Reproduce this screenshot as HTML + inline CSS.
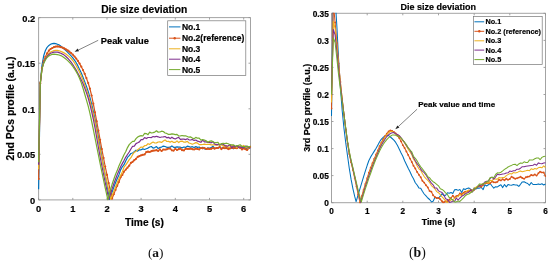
<!DOCTYPE html>
<html lang="en"><head><meta charset="utf-8"><title>Die size deviation</title>
<style>html,body{margin:0;padding:0;background:#fff}body{width:550px;height:263px;overflow:hidden}</style>
</head><body>
<svg width="550" height="263" viewBox="0 0 550 263" style="display:block;font-family:'Liberation Sans',sans-serif;font-weight:bold">
<style>text{stroke:#000;stroke-width:0.18px}</style>
<rect width="550" height="263" fill="#fff"/>
<clipPath id="ca"><rect x="38.0" y="17.0" width="213.1" height="183.5"/></clipPath>
<path d="M38.6 17.6H250.5V199.9H38.6ZM38.6 199.9v-2.0M38.6 17.6v2.0M72.8 199.9v-2.0M72.8 17.6v2.0M107.0 199.9v-2.0M107.0 17.6v2.0M141.1 199.9v-2.0M141.1 17.6v2.0M175.3 199.9v-2.0M175.3 17.6v2.0M209.5 199.9v-2.0M209.5 17.6v2.0M243.7 199.9v-2.0M243.7 17.6v2.0M38.6 199.9h2.0M250.5 199.9h-2.0M38.6 154.3h2.0M250.5 154.3h-2.0M38.6 108.8h2.0M250.5 108.8h-2.0M38.6 63.2h2.0M250.5 63.2h-2.0M38.6 17.6h2.0M250.5 17.6h-2.0" fill="none" stroke="#929292" stroke-width="0.85"/>
<g clip-path="url(#ca)">
<polyline points="38.6,189.2 40.3,83.2 42.0,65.0 43.7,55.8 45.4,50.5 47.1,47.3 48.9,45.4 50.6,44.3 52.3,43.6 54.0,43.3 55.7,43.6 57.4,44.2 59.1,44.9 60.8,46.1 62.5,47.5 64.2,49.0 65.9,50.6 67.7,52.3 69.4,54.1 71.1,55.9 72.8,57.8 74.5,60.1 76.2,62.8 77.9,65.9 79.6,69.4 81.3,73.1 83.0,77.2 84.7,81.6 86.4,86.3 88.2,91.5 89.9,97.3 91.6,103.9 93.3,111.2 95.0,119.1 96.7,127.9 98.4,137.4 100.1,147.2 101.8,156.7 103.5,166.0 105.2,175.4 107.0,184.7 108.7,194.2 109.6,199.4 110.4,197.2 112.1,192.1 113.8,187.4 115.5,182.8 117.2,178.7 118.9,174.9 120.6,169.9 122.3,166.8 124.0,164.7 125.8,160.7 127.5,157.4 129.2,155.6 130.9,153.5 132.6,153.0 134.3,151.6 136.0,150.2 137.7,151.1 139.4,149.8 141.1,149.8 142.8,148.9 144.6,149.5 146.3,148.7 148.0,148.1 149.7,147.0 151.4,146.5 153.1,148.1 154.8,147.6 156.5,146.6 158.2,148.5 159.9,147.4 161.6,147.1 163.3,146.1 165.1,146.5 166.8,147.3 168.5,147.3 170.2,147.2 171.9,145.9 173.6,147.3 175.3,147.3 177.0,146.8 178.7,147.1 180.4,147.2 182.1,147.9 183.9,147.0 185.6,147.4 187.3,146.2 189.0,146.6 190.7,147.2 192.4,146.7 194.1,147.5 195.8,146.6 197.5,147.4 199.2,147.0 200.9,148.5 202.7,147.3 204.4,148.9 206.1,149.2 207.8,147.9 209.5,148.4 211.2,147.6 212.9,146.1 214.6,148.4 216.3,148.3 218.0,147.7 219.7,147.5 221.4,148.0 223.2,148.1 224.9,147.4 226.6,147.6 228.3,148.7 230.0,148.0 231.7,147.9 233.4,148.7 235.1,147.7 236.8,148.5 238.5,147.1 240.2,147.6 242.0,147.7 243.7,148.1 245.4,147.7 247.1,149.1 248.8,148.4 250.5,147.2" fill="none" stroke="#0072BD" stroke-width="1.2" stroke-linejoin="round"/>
<polyline points="38.6,178.9 40.3,83.2 42.0,68.2 43.7,61.2 45.4,56.8 47.1,53.4 48.9,50.7 50.6,49.0 52.3,48.0 54.0,47.1 55.7,46.6 57.4,46.4 59.1,46.6 60.8,47.1 62.5,47.7 64.2,48.4 65.9,49.3 67.7,50.4 69.4,51.7 71.1,53.1 72.8,54.7 74.5,56.5 76.2,58.6 77.9,60.9 79.6,63.6 81.3,66.7 83.0,70.1 84.7,73.8 86.4,78.1 88.2,83.0 89.9,88.7 91.6,95.5 93.3,103.7 95.0,112.4 96.7,121.3 98.4,130.5 100.1,139.8 101.8,149.1 103.5,157.9 105.2,166.5 107.0,174.9 108.7,183.1 110.4,191.2 112.0,198.7 112.1,198.5 113.8,194.2 115.5,189.9 117.2,185.8 118.9,182.0 120.6,177.3 122.3,174.9 124.0,171.7 125.8,169.6 127.5,167.7 129.2,165.7 130.9,162.9 132.6,161.8 134.3,160.2 136.0,158.8 137.7,156.9 139.4,156.1 141.1,155.3 142.8,154.8 144.6,154.4 146.3,152.1 148.0,151.6 149.7,152.0 151.4,151.2 153.1,150.7 154.8,150.5 156.5,150.2 158.2,150.9 159.9,149.4 161.6,151.0 163.3,149.5 165.1,149.6 166.8,149.3 168.5,148.5 170.2,148.6 171.9,150.3 173.6,150.6 175.3,148.8 177.0,150.0 178.7,149.2 180.4,148.6 182.1,150.2 183.9,150.4 185.6,148.8 187.3,148.8 189.0,148.9 190.7,148.6 192.4,149.2 194.1,149.5 195.8,148.6 197.5,149.0 199.2,149.4 200.9,148.0 202.7,148.3 204.4,148.0 206.1,148.9 207.8,148.7 209.5,148.9 211.2,148.8 212.9,148.1 214.6,148.7 216.3,148.0 218.0,148.0 219.7,146.8 221.4,149.1 223.2,147.6 224.9,148.2 226.6,148.1 228.3,149.1 230.0,148.4 231.7,147.6 233.4,148.1 235.1,148.0 236.8,148.2 238.5,147.2 240.2,148.0 242.0,149.4 243.7,148.3 245.4,149.2 247.1,150.0 248.8,148.1 250.5,146.9" fill="none" stroke="#D95319" stroke-width="1.2" stroke-linejoin="round"/>
<path d="M38.6 178.9h0M40.3 83.2h0M42.0 68.2h0M43.7 61.2h0M45.4 56.8h0M47.1 53.4h0M48.9 50.7h0M50.6 49.0h0M52.3 48.0h0M54.0 47.1h0M55.7 46.6h0M57.4 46.4h0M59.1 46.6h0M60.8 47.1h0M62.5 47.7h0M64.2 48.4h0M65.9 49.3h0M67.7 50.4h0M69.4 51.7h0M71.1 53.1h0M72.8 54.7h0M74.5 56.5h0M76.2 58.6h0M77.9 60.9h0M79.6 63.6h0M81.3 66.7h0M83.0 70.1h0M84.7 73.8h0M86.4 78.1h0M88.2 83.0h0M89.9 88.7h0M91.6 95.5h0M93.3 103.7h0M95.0 112.4h0M96.7 121.3h0M98.4 130.5h0M100.1 139.8h0M101.8 149.1h0M103.5 157.9h0M105.2 166.5h0M107.0 174.9h0M108.7 183.1h0M110.4 191.2h0M112.0 198.7h0M112.1 198.5h0M113.8 194.2h0M115.5 189.9h0M117.2 185.8h0M118.9 182.0h0M120.6 177.3h0M122.3 174.9h0M124.0 171.7h0M125.8 169.6h0M127.5 167.7h0M129.2 165.7h0M130.9 162.9h0M132.6 161.8h0M134.3 160.2h0M136.0 158.8h0M137.7 156.9h0M139.4 156.1h0M141.1 155.3h0M142.8 154.8h0M144.6 154.4h0M146.3 152.1h0M148.0 151.6h0M149.7 152.0h0M151.4 151.2h0M153.1 150.7h0M154.8 150.5h0M156.5 150.2h0M158.2 150.9h0M159.9 149.4h0M161.6 151.0h0M163.3 149.5h0M165.1 149.6h0M166.8 149.3h0M168.5 148.5h0M170.2 148.6h0M171.9 150.3h0M173.6 150.6h0M175.3 148.8h0M177.0 150.0h0M178.7 149.2h0M180.4 148.6h0M182.1 150.2h0M183.9 150.4h0M185.6 148.8h0M187.3 148.8h0M189.0 148.9h0M190.7 148.6h0M192.4 149.2h0M194.1 149.5h0M195.8 148.6h0M197.5 149.0h0M199.2 149.4h0M200.9 148.0h0M202.7 148.3h0M204.4 148.0h0M206.1 148.9h0M207.8 148.7h0M209.5 148.9h0M211.2 148.8h0M212.9 148.1h0M214.6 148.7h0M216.3 148.0h0M218.0 148.0h0M219.7 146.8h0M221.4 149.1h0M223.2 147.6h0M224.9 148.2h0M226.6 148.1h0M228.3 149.1h0M230.0 148.4h0M231.7 147.6h0M233.4 148.1h0M235.1 148.0h0M236.8 148.2h0M238.5 147.2h0M240.2 148.0h0M242.0 149.4h0M243.7 148.3h0M245.4 149.2h0M247.1 150.0h0M248.8 148.1h0M250.5 146.9h0" stroke="#D95319" stroke-width="2.24" stroke-linecap="round" fill="none"/>
<polyline points="38.6,169.3 40.3,83.2 42.0,68.6 43.7,62.4 45.4,58.6 47.1,55.7 48.9,53.5 50.6,52.1 52.3,51.2 54.0,50.6 55.7,50.3 57.4,50.4 59.1,50.8 60.8,51.4 62.5,52.1 64.2,52.9 65.9,54.1 67.7,55.4 69.4,56.9 71.1,58.5 72.8,60.5 74.5,62.9 76.2,65.7 77.9,68.9 79.6,72.3 81.3,76.1 83.0,80.3 84.7,84.7 86.4,89.6 88.2,94.8 89.9,100.6 91.6,107.1 93.3,114.2 95.0,122.2 96.7,131.1 98.4,140.5 100.1,149.7 101.8,158.4 103.5,166.6 105.2,174.6 107.0,182.5 108.7,190.2 110.4,197.7 110.7,199.2 112.1,195.7 113.8,191.4 115.5,187.0 117.2,182.8 118.9,178.8 120.6,175.3 122.3,171.9 124.0,167.2 125.8,164.9 127.5,162.3 129.2,159.7 130.9,157.7 132.6,154.7 134.3,152.2 136.0,151.4 137.7,149.8 139.4,148.4 141.1,147.0 142.8,147.3 144.6,145.7 146.3,145.5 148.0,143.7 149.7,144.4 151.4,143.0 153.1,142.0 154.8,143.0 156.5,142.9 158.2,142.0 159.9,141.9 161.6,142.4 163.3,141.1 165.1,139.9 166.8,141.5 168.5,141.4 170.2,142.1 171.9,141.2 173.6,142.4 175.3,142.4 177.0,140.9 178.7,142.6 180.4,141.3 182.1,141.1 183.9,142.2 185.6,142.1 187.3,141.3 189.0,143.0 190.7,143.5 192.4,144.2 194.1,143.5 195.8,142.6 197.5,143.1 199.2,144.6 200.9,144.7 202.7,144.5 204.4,144.1 206.1,144.5 207.8,144.3 209.5,144.4 211.2,144.9 212.9,144.8 214.6,144.8 216.3,145.1 218.0,144.8 219.7,144.0 221.4,145.0 223.2,145.6 224.9,146.9 226.6,145.6 228.3,147.4 230.0,147.1 231.7,145.7 233.4,145.9 235.1,146.6 236.8,147.8 238.5,146.9 240.2,147.2 242.0,146.4 243.7,145.4 245.4,146.9 247.1,147.6 248.8,148.0 250.5,147.3" fill="none" stroke="#EDB120" stroke-width="1.2" stroke-linejoin="round"/>
<polyline points="38.6,164.7 40.3,83.2 42.0,68.6 43.7,62.7 45.4,59.1 47.1,56.5 48.9,54.5 50.6,53.3 52.3,52.7 54.0,52.2 55.7,52.0 57.4,52.1 59.1,52.6 60.8,53.3 62.5,54.1 64.2,55.1 65.9,56.5 67.7,58.2 69.4,60.1 71.1,62.1 72.8,64.5 74.5,67.2 76.2,70.1 77.9,73.2 79.6,76.4 81.3,80.0 83.0,83.8 84.7,88.0 86.4,92.6 88.2,98.0 89.9,104.3 91.6,111.3 93.3,119.0 95.0,127.9 96.7,137.6 98.4,147.4 100.1,156.7 101.8,165.4 103.5,174.0 105.2,182.4 107.0,190.6 108.7,198.6 108.8,199.4 110.4,194.3 112.1,188.9 113.8,183.8 115.5,179.2 117.2,174.7 118.9,170.7 120.6,166.8 122.3,163.6 124.0,160.6 125.8,157.1 127.5,154.5 129.2,152.0 130.9,149.0 132.6,146.3 134.3,146.1 136.0,143.6 137.7,142.8 139.4,141.9 141.1,139.7 142.8,139.7 144.6,137.6 146.3,138.6 148.0,137.5 149.7,137.5 151.4,137.6 153.1,136.5 154.8,136.9 156.5,136.3 158.2,136.8 159.9,137.5 161.6,137.0 163.3,136.9 165.1,136.5 166.8,137.8 168.5,137.3 170.2,138.6 171.9,137.2 173.6,138.4 175.3,139.0 177.0,138.0 178.7,137.4 180.4,139.3 182.1,139.2 183.9,139.2 185.6,139.6 187.3,138.8 189.0,139.8 190.7,140.0 192.4,139.4 194.1,140.5 195.8,140.0 197.5,141.2 199.2,141.6 200.9,142.3 202.7,140.2 204.4,141.9 206.1,141.9 207.8,142.3 209.5,142.5 211.2,142.8 212.9,141.8 214.6,144.0 216.3,144.6 218.0,144.5 219.7,145.0 221.4,144.0 223.2,144.2 224.9,145.6 226.6,146.2 228.3,145.8 230.0,144.8 231.7,147.8 233.4,145.8 235.1,147.0 236.8,145.7 238.5,147.3 240.2,146.9 242.0,147.8 243.7,147.6 245.4,146.1 247.1,146.6 248.8,147.4 250.5,147.8" fill="none" stroke="#7E2F8E" stroke-width="1.2" stroke-linejoin="round"/>
<polyline points="38.6,162.3 40.3,83.2 42.0,69.1 43.7,63.4 45.4,60.0 47.1,57.5 48.9,55.9 50.6,55.0 52.3,54.4 54.0,54.2 55.7,54.3 57.4,54.6 59.1,55.0 60.8,55.6 62.5,56.6 64.2,57.8 65.9,59.1 67.7,60.6 69.4,62.3 71.1,64.2 72.8,66.4 74.5,68.9 76.2,71.6 77.9,74.8 79.6,78.5 81.3,82.9 83.0,88.3 84.7,94.0 86.4,99.9 88.2,106.2 89.9,113.2 91.6,121.0 93.3,129.3 95.0,137.9 96.7,146.5 98.4,155.0 100.1,163.3 101.8,171.6 103.5,179.7 105.2,187.8 107.0,195.9 107.8,199.9 108.7,196.5 110.4,190.0 112.1,184.3 113.8,179.2 115.5,174.5 117.2,170.6 118.9,166.0 120.6,162.3 122.3,158.5 124.0,154.7 125.8,151.5 127.5,147.6 129.2,144.6 130.9,142.9 132.6,141.4 134.3,141.3 136.0,138.6 137.7,137.0 139.4,136.1 141.1,135.6 142.8,136.0 144.6,133.4 146.3,133.6 148.0,134.7 149.7,132.1 151.4,133.0 153.1,132.6 154.8,132.1 156.5,130.8 158.2,132.2 159.9,132.0 161.6,131.2 163.3,131.5 165.1,133.0 166.8,133.4 168.5,134.4 170.2,134.3 171.9,133.8 173.6,134.2 175.3,134.7 177.0,134.4 178.7,136.0 180.4,135.8 182.1,135.5 183.9,135.9 185.6,135.8 187.3,136.5 189.0,137.2 190.7,136.9 192.4,138.1 194.1,138.8 195.8,137.4 197.5,138.2 199.2,138.2 200.9,140.1 202.7,139.5 204.4,140.1 206.1,140.8 207.8,142.2 209.5,141.3 211.2,140.8 212.9,141.6 214.6,142.7 216.3,142.6 218.0,142.3 219.7,145.2 221.4,143.6 223.2,143.4 224.9,143.6 226.6,143.2 228.3,143.8 230.0,144.7 231.7,144.9 233.4,144.8 235.1,146.0 236.8,145.9 238.5,145.4 240.2,144.8 242.0,146.5 243.7,146.6 245.4,146.6 247.1,146.0 248.8,147.1 250.5,146.2" fill="none" stroke="#77AC30" stroke-width="1.2" stroke-linejoin="round"/>
</g>
<text x="38.6" y="212.3" font-size="9.3" text-anchor="middle" fill="#000">0</text>
<text x="72.8" y="212.3" font-size="9.3" text-anchor="middle" fill="#000">1</text>
<text x="107.0" y="212.3" font-size="9.3" text-anchor="middle" fill="#000">2</text>
<text x="141.1" y="212.3" font-size="9.3" text-anchor="middle" fill="#000">3</text>
<text x="175.3" y="212.3" font-size="9.3" text-anchor="middle" fill="#000">4</text>
<text x="209.5" y="212.3" font-size="9.3" text-anchor="middle" fill="#000">5</text>
<text x="243.7" y="212.3" font-size="9.3" text-anchor="middle" fill="#000">6</text>
<text x="35.2" y="203.8" font-size="9.3" text-anchor="end" fill="#000">0</text>
<text x="35.2" y="158.2" font-size="9.3" text-anchor="end" fill="#000">0.05</text>
<text x="35.2" y="112.7" font-size="9.3" text-anchor="end" fill="#000">0.1</text>
<text x="35.2" y="67.1" font-size="9.3" text-anchor="end" fill="#000">0.15</text>
<text x="35.2" y="21.5" font-size="9.3" text-anchor="end" fill="#000">0.2</text>
<text x="144.4" y="226.3" font-size="10.2" text-anchor="middle" fill="#000">Time (s)</text>
<text transform="translate(14.3 108.6) rotate(-90)" font-size="10.4" text-anchor="middle" fill="#000">2nd PCs profile (a.u.)</text>
<text x="144.2" y="13.3" font-size="10.25" text-anchor="middle" fill="#000">Die size deviation</text>
<text x="100.8" y="43.9" font-size="9.3" fill="#000">Peak value</text>
<path d="M98.2 40.3L78.4 50.0" stroke="#333" stroke-width="0.6" fill="none"/><path d="M74.6 51.8L77.7 48.6L79.0 51.3Z" fill="#222"/>
<rect x="167.7" y="20.8" width="78.1" height="54.7" fill="#fff" stroke="#777" stroke-width="0.7"/><path d="M169 26.9H180.4" stroke="#0072BD" stroke-width="1"/><text x="181.9" y="29.9" font-size="8.5" fill="#000">No.1</text><path d="M169 38.2H180.4" stroke="#D95319" stroke-width="1"/><circle cx="174.7" cy="38.2" r="1.2" fill="#D95319"/><text x="181.9" y="41.2" font-size="8.5" fill="#000">No.2(reference)</text><path d="M169 48.8H180.4" stroke="#EDB120" stroke-width="1"/><text x="181.9" y="51.8" font-size="8.5" fill="#000">No.3</text><path d="M169 59.2H180.4" stroke="#7E2F8E" stroke-width="1"/><text x="181.9" y="62.2" font-size="8.5" fill="#000">No.4</text><path d="M169 69.6H180.4" stroke="#77AC30" stroke-width="1"/><text x="181.9" y="72.6" font-size="8.5" fill="#000">No.5</text>
<text x="155.7" y="257" font-size="13.4" text-anchor="middle" fill="#111" style="font-family:'Liberation Serif',serif;font-weight:normal;stroke:none">(<tspan font-weight="bold">a</tspan>)</text>
<clipPath id="cb"><rect x="330.9" y="12.700000000000001" width="215.2" height="190.6"/></clipPath>
<path d="M331.5 13.3H545.5V202.7H331.5ZM331.5 202.7v-2.0M331.5 13.3v2.0M367.2 202.7v-2.0M367.2 13.3v2.0M402.8 202.7v-2.0M402.8 13.3v2.0M438.5 202.7v-2.0M438.5 13.3v2.0M474.2 202.7v-2.0M474.2 13.3v2.0M509.8 202.7v-2.0M509.8 13.3v2.0M545.5 202.7v-2.0M545.5 13.3v2.0M331.5 202.7h2.0M545.5 202.7h-2.0M331.5 175.6h2.0M545.5 175.6h-2.0M331.5 148.6h2.0M545.5 148.6h-2.0M331.5 121.5h2.0M545.5 121.5h-2.0M331.5 94.5h2.0M545.5 94.5h-2.0M331.5 67.4h2.0M545.5 67.4h-2.0M331.5 40.4h2.0M545.5 40.4h-2.0M331.5 13.3h2.0M545.5 13.3h-2.0" fill="none" stroke="#929292" stroke-width="0.85"/>
<g clip-path="url(#cb)">
<polyline points="331.5,116.1 333.3,-16.5 335.1,-1.9 336.9,26.8 338.6,59.3 340.4,87.4 342.2,110.7 344.0,128.6 345.8,143.2 347.6,156.2 349.3,168.5 351.1,179.4 352.9,188.6 354.7,196.4 356.1,201.6 356.5,200.4 358.2,194.5 360.0,188.6 361.8,182.6 363.6,176.6 365.4,170.9 367.2,165.3 368.9,160.5 370.7,156.9 372.5,154.0 374.3,151.1 376.1,148.2 377.9,144.9 379.6,141.7 381.4,139.1 383.2,137.3 385.0,136.1 386.8,135.4 388.6,135.6 390.4,137.0 392.1,138.5 393.9,140.1 395.7,142.4 397.5,145.6 399.3,149.2 401.1,153.0 402.8,156.2 404.6,160.7 406.4,164.5 408.2,168.3 410.0,171.7 411.8,175.8 413.5,178.7 415.3,182.7 417.1,185.0 418.9,187.9 420.7,188.3 422.4,191.3 424.2,194.0 426.0,195.9 427.8,198.0 429.6,199.5 431.4,201.8 431.7,201.9 433.1,201.2 434.9,197.5 436.7,197.9 438.5,198.1 440.3,196.2 442.1,193.6 443.9,195.7 445.6,195.3 447.4,192.8 449.2,193.2 451.0,192.5 452.8,193.5 454.6,189.8 456.3,189.5 458.1,190.4 459.9,189.5 461.7,192.5 463.5,188.7 465.2,189.5 467.0,188.4 468.8,187.9 470.6,189.1 472.4,190.7 474.2,187.9 475.9,189.0 477.7,188.1 479.5,188.1 481.3,187.4 483.1,189.7 484.9,184.8 486.6,186.0 488.4,184.7 490.2,183.5 492.0,186.0 493.8,188.2 495.6,186.7 497.4,186.9 499.1,185.7 500.9,184.8 502.7,187.6 504.5,184.5 506.3,186.9 508.0,184.6 509.8,185.1 511.6,185.2 513.4,184.6 515.2,185.0 517.0,185.0 518.8,186.4 520.5,184.3 522.3,181.9 524.1,181.8 525.9,182.7 527.7,183.5 529.5,185.3 531.2,182.5 533.0,184.5 534.8,184.5 536.6,184.6 538.4,183.9 540.1,184.4 541.9,183.8 543.7,185.0 545.5,184.0" fill="none" stroke="#0072BD" stroke-width="1.05" stroke-linejoin="round"/>
<polyline points="331.5,108.5 333.3,2.5 335.1,22.5 336.9,43.1 338.6,63.4 340.4,82.0 342.2,99.1 344.0,114.7 345.8,129.8 347.6,143.5 349.3,154.0 351.1,162.3 352.9,169.9 354.7,178.1 356.5,186.4 358.2,194.5 360.0,202.7 361.8,196.2 363.6,190.0 365.4,183.9 367.2,178.1 368.9,172.6 370.7,167.7 372.5,163.2 374.3,158.7 376.1,154.5 377.9,150.4 379.6,146.2 381.4,142.6 383.2,139.2 385.0,136.1 386.8,133.7 388.6,131.5 390.4,130.5 392.1,131.0 393.9,132.0 395.7,133.5 397.5,135.8 399.3,138.1 401.1,141.4 402.8,145.1 404.6,147.9 406.4,151.5 408.2,154.9 410.0,158.6 411.8,162.0 413.5,165.7 415.3,168.5 417.1,171.9 418.9,174.7 420.7,177.3 422.4,180.8 424.2,182.6 426.0,185.2 427.8,187.4 429.6,190.9 431.4,191.7 433.1,195.2 434.9,197.0 436.7,198.1 438.5,198.0 440.3,199.3 442.1,201.3 443.2,202.5 443.9,202.3 445.6,201.2 447.4,201.3 449.2,199.8 451.0,198.0 452.8,195.6 454.6,197.6 456.3,196.1 458.1,195.6 459.9,193.4 461.7,194.2 463.5,192.8 465.2,191.6 467.0,191.6 468.8,190.9 470.6,189.9 472.4,190.8 474.2,189.7 475.9,188.1 477.7,186.8 479.5,186.2 481.3,186.8 483.1,185.0 484.9,183.3 486.6,182.9 488.4,183.0 490.2,183.2 492.0,181.5 493.8,182.2 495.6,182.4 497.4,181.8 499.1,179.7 500.9,180.4 502.7,179.3 504.5,180.3 506.3,178.7 508.0,179.7 509.8,179.0 511.6,176.6 513.4,177.8 515.2,178.7 517.0,178.2 518.8,177.6 520.5,176.7 522.3,178.0 524.1,178.8 525.9,177.3 527.7,176.8 529.5,176.4 531.2,174.9 533.0,175.4 534.8,174.5 536.6,175.6 538.4,173.3 540.1,171.7 541.9,172.4 543.7,172.5 545.5,176.1" fill="none" stroke="#D95319" stroke-width="1.05" stroke-linejoin="round"/>
<path d="M331.5 108.5h0M333.3 2.5h0M335.1 22.5h0M336.9 43.1h0M338.6 63.4h0M340.4 82.0h0M342.2 99.1h0M344.0 114.7h0M345.8 129.8h0M347.6 143.5h0M349.3 154.0h0M351.1 162.3h0M352.9 169.9h0M354.7 178.1h0M356.5 186.4h0M358.2 194.5h0M360.0 202.7h0M361.8 196.2h0M363.6 190.0h0M365.4 183.9h0M367.2 178.1h0M368.9 172.6h0M370.7 167.7h0M372.5 163.2h0M374.3 158.7h0M376.1 154.5h0M377.9 150.4h0M379.6 146.2h0M381.4 142.6h0M383.2 139.2h0M385.0 136.1h0M386.8 133.7h0M388.6 131.5h0M390.4 130.5h0M392.1 131.0h0M393.9 132.0h0M395.7 133.5h0M397.5 135.8h0M399.3 138.1h0M401.1 141.4h0M402.8 145.1h0M404.6 147.9h0M406.4 151.5h0M408.2 154.9h0M410.0 158.6h0M411.8 162.0h0M413.5 165.7h0M415.3 168.5h0M417.1 171.9h0M418.9 174.7h0M420.7 177.3h0M422.4 180.8h0M424.2 182.6h0M426.0 185.2h0M427.8 187.4h0M429.6 190.9h0M431.4 191.7h0M433.1 195.2h0M434.9 197.0h0M436.7 198.1h0M438.5 198.0h0M440.3 199.3h0M442.1 201.3h0M443.2 202.5h0M443.9 202.3h0M445.6 201.2h0M447.4 201.3h0M449.2 199.8h0M451.0 198.0h0M452.8 195.6h0M454.6 197.6h0M456.3 196.1h0M458.1 195.6h0M459.9 193.4h0M461.7 194.2h0M463.5 192.8h0M465.2 191.6h0M467.0 191.6h0M468.8 190.9h0M470.6 189.9h0M472.4 190.8h0M474.2 189.7h0M475.9 188.1h0M477.7 186.8h0M479.5 186.2h0M481.3 186.8h0M483.1 185.0h0M484.9 183.3h0M486.6 182.9h0M488.4 183.0h0M490.2 183.2h0M492.0 181.5h0M493.8 182.2h0M495.6 182.4h0M497.4 181.8h0M499.1 179.7h0M500.9 180.4h0M502.7 179.3h0M504.5 180.3h0M506.3 178.7h0M508.0 179.7h0M509.8 179.0h0M511.6 176.6h0M513.4 177.8h0M515.2 178.7h0M517.0 178.2h0M518.8 177.6h0M520.5 176.7h0M522.3 178.0h0M524.1 178.8h0M525.9 177.3h0M527.7 176.8h0M529.5 176.4h0M531.2 174.9h0M533.0 175.4h0M534.8 174.5h0M536.6 175.6h0M538.4 173.3h0M540.1 171.7h0M541.9 172.4h0M543.7 172.5h0M545.5 176.1h0" stroke="#D95319" stroke-width="1.9" stroke-linecap="round" fill="none"/>
<polyline points="331.5,102.6 333.3,21.4 335.1,28.5 336.9,46.9 338.6,65.8 340.4,83.1 342.2,99.3 344.0,114.5 345.8,129.3 347.6,143.0 349.3,153.3 351.1,161.6 352.9,169.2 354.7,177.3 356.5,185.3 358.2,193.3 360.0,201.1 360.4,202.7 361.8,197.4 363.6,191.2 365.4,185.2 367.2,179.5 368.9,174.2 370.7,169.2 372.5,164.5 374.3,160.0 376.1,155.8 377.9,151.5 379.6,147.6 381.4,143.7 383.2,140.5 385.0,137.4 386.8,134.7 388.6,132.8 390.4,131.5 392.1,131.5 393.9,132.4 395.7,133.7 397.5,134.6 399.3,136.2 401.1,138.3 402.8,140.6 404.6,142.9 406.4,146.1 408.2,149.2 410.0,152.0 411.8,154.8 413.5,159.3 415.3,161.7 417.1,165.7 418.9,168.8 420.7,170.3 422.4,173.5 424.2,176.6 426.0,178.6 427.8,180.3 429.6,182.4 431.4,185.6 433.1,187.1 434.9,188.8 436.7,191.6 438.5,192.7 440.3,194.7 442.1,196.8 443.9,198.8 445.6,200.8 446.7,202.4 447.4,202.2 449.2,201.7 451.0,199.8 452.8,199.7 454.6,198.3 456.3,197.1 458.1,196.7 459.9,194.3 461.7,195.8 463.5,193.5 465.2,193.5 467.0,190.9 468.8,190.1 470.6,192.2 472.4,190.5 474.2,188.3 475.9,187.3 477.7,186.3 479.5,186.0 481.3,184.6 483.1,183.5 484.9,183.2 486.6,181.5 488.4,183.4 490.2,180.3 492.0,180.9 493.8,178.7 495.6,179.1 497.4,179.1 499.1,177.5 500.9,178.0 502.7,177.4 504.5,177.4 506.3,175.6 508.0,174.6 509.8,173.6 511.6,174.0 513.4,172.6 515.2,172.9 517.0,172.6 518.8,171.6 520.5,170.9 522.3,171.7 524.1,171.2 525.9,170.8 527.7,170.3 529.5,170.7 531.2,168.8 533.0,169.6 534.8,168.5 536.6,169.1 538.4,167.7 540.1,167.3 541.9,167.8 543.7,165.9 545.5,167.5" fill="none" stroke="#EDB120" stroke-width="1.05" stroke-linejoin="round"/>
<polyline points="331.5,91.8 333.3,29.5 335.1,34.9 336.9,52.3 338.6,69.6 340.4,85.3 342.2,100.4 344.0,114.5 345.8,128.9 347.6,142.4 349.3,152.8 351.1,161.1 352.9,168.7 354.7,176.6 356.5,184.5 358.2,192.2 360.0,199.7 360.7,202.7 361.8,198.7 363.6,192.3 365.4,186.4 367.2,180.9 368.9,175.6 370.7,170.7 372.5,165.9 374.3,161.4 376.1,157.1 377.9,152.9 379.6,148.8 381.4,145.2 383.2,142.1 385.0,139.2 386.8,136.5 388.6,134.8 390.4,133.5 392.1,132.8 393.9,132.6 395.7,133.8 397.5,134.5 399.3,135.6 401.1,137.8 402.8,140.1 404.6,142.4 406.4,145.5 408.2,147.9 410.0,150.0 411.8,153.5 413.5,157.6 415.3,160.8 417.1,163.7 418.9,165.8 420.7,169.1 422.4,171.2 424.2,172.6 426.0,174.9 427.8,177.9 429.6,180.6 431.4,183.1 433.1,184.8 434.9,188.0 436.7,188.1 438.5,190.9 440.3,191.8 442.1,192.5 443.9,194.9 445.6,198.7 447.4,199.4 449.2,201.9 449.6,202.4 451.0,202.1 452.8,201.0 454.6,201.4 456.3,198.0 458.1,200.1 459.9,198.0 461.7,196.3 463.5,195.3 465.2,194.0 467.0,192.9 468.8,192.3 470.6,190.2 472.4,191.9 474.2,189.1 475.9,188.6 477.7,186.8 479.5,185.5 481.3,185.3 483.1,184.0 484.9,181.9 486.6,181.3 488.4,181.3 490.2,178.2 492.0,177.1 493.8,179.2 495.6,176.9 497.4,174.2 499.1,174.7 500.9,174.4 502.7,174.1 504.5,173.8 506.3,173.0 508.0,172.8 509.8,171.1 511.6,171.4 513.4,170.8 515.2,170.7 517.0,169.2 518.8,169.3 520.5,168.2 522.3,166.7 524.1,166.7 525.9,166.2 527.7,165.9 529.5,165.7 531.2,165.5 533.0,165.3 534.8,164.1 536.6,165.2 538.4,162.9 540.1,163.6 541.9,163.8 543.7,163.1 545.5,162.7" fill="none" stroke="#7E2F8E" stroke-width="1.05" stroke-linejoin="round"/>
<polyline points="331.5,94.5 333.3,37.7 335.1,42.5 336.9,58.8 338.6,75.0 340.4,89.1 342.2,102.0 344.0,115.0 345.8,128.6 347.6,141.5 349.3,151.6 351.1,160.0 352.9,167.7 354.7,175.4 356.5,183.0 358.2,190.3 360.0,197.4 361.3,202.2 361.8,200.3 363.6,194.3 365.4,188.7 367.2,183.3 368.9,178.1 370.7,173.2 372.5,168.1 374.3,163.2 376.1,158.7 377.9,154.9 379.6,151.0 381.4,147.6 383.2,144.5 385.0,141.8 386.8,139.6 388.6,137.7 390.4,136.3 392.1,135.1 393.9,134.9 395.7,135.3 397.5,136.0 399.3,136.8 401.1,138.2 402.8,140.0 404.6,142.3 406.4,144.6 408.2,147.7 410.0,150.2 411.8,151.9 413.5,156.3 415.3,158.3 417.1,160.9 418.9,164.0 420.7,166.8 422.4,168.9 424.2,171.2 426.0,173.5 427.8,176.8 429.6,177.7 431.4,180.1 433.1,181.7 434.9,182.8 436.7,184.3 438.5,185.8 440.3,188.7 442.1,189.4 443.9,190.9 445.6,192.8 447.4,194.4 449.2,197.5 451.0,199.0 452.8,199.8 454.6,201.8 455.3,202.1 456.3,201.8 458.1,201.1 459.9,201.4 461.7,199.7 463.5,197.9 465.2,195.9 467.0,194.5 468.8,194.0 470.6,192.7 472.4,191.8 474.2,189.2 475.9,188.4 477.7,186.3 479.5,183.9 481.3,184.2 483.1,184.3 484.9,182.5 486.6,182.0 488.4,180.7 490.2,177.4 492.0,177.3 493.8,177.7 495.6,174.5 497.4,172.8 499.1,173.0 500.9,172.2 502.7,170.9 504.5,169.4 506.3,168.3 508.0,167.0 509.8,166.1 511.6,165.4 513.4,164.4 515.2,164.3 517.0,165.6 518.8,163.9 520.5,163.1 522.3,163.3 524.1,161.8 525.9,162.4 527.7,162.5 529.5,159.9 531.2,160.0 533.0,159.9 534.8,158.7 536.6,157.9 538.4,157.9 540.1,159.7 541.9,157.4 543.7,156.5 545.5,156.2" fill="none" stroke="#77AC30" stroke-width="1.05" stroke-linejoin="round"/>
</g>
<text x="331.5" y="214" font-size="8.2" text-anchor="middle" fill="#000">0</text>
<text x="367.2" y="214" font-size="8.2" text-anchor="middle" fill="#000">1</text>
<text x="402.8" y="214" font-size="8.2" text-anchor="middle" fill="#000">2</text>
<text x="438.5" y="214" font-size="8.2" text-anchor="middle" fill="#000">3</text>
<text x="474.2" y="214" font-size="8.2" text-anchor="middle" fill="#000">4</text>
<text x="509.8" y="214" font-size="8.2" text-anchor="middle" fill="#000">5</text>
<text x="545.5" y="214" font-size="8.2" text-anchor="middle" fill="#000">6</text>
<text x="328.8" y="206.1" font-size="8.3" text-anchor="end" fill="#000">0</text>
<text x="328.8" y="179.0" font-size="8.3" text-anchor="end" fill="#000">0.05</text>
<text x="328.8" y="152.0" font-size="8.3" text-anchor="end" fill="#000">0.1</text>
<text x="328.8" y="124.9" font-size="8.3" text-anchor="end" fill="#000">0.15</text>
<text x="328.8" y="97.9" font-size="8.3" text-anchor="end" fill="#000">0.2</text>
<text x="328.8" y="70.8" font-size="8.3" text-anchor="end" fill="#000">0.25</text>
<text x="328.8" y="43.8" font-size="8.3" text-anchor="end" fill="#000">0.3</text>
<text x="328.8" y="16.7" font-size="8.3" text-anchor="end" fill="#000">0.35</text>
<text x="438.5" y="225.4" font-size="8.8" text-anchor="middle" fill="#000">Time (s)</text>
<text transform="translate(310.3 107.8) rotate(-90)" font-size="9" text-anchor="middle" fill="#000">3rd PCs profile (a.u.)</text>
<text x="438.2" y="10" font-size="9" text-anchor="middle" fill="#000">Die size deviation</text>
<text x="418.2" y="107" font-size="8.05" fill="#000">Peak value and time</text>
<path d="M417.1 109.2L398.4 126.5" stroke="#333" stroke-width="0.6" fill="none"/><path d="M395.3 129.3L397.4 125.4L399.4 127.6Z" fill="#222"/>
<rect x="473.4" y="16.5" width="68.8" height="48.0" fill="#fff" stroke="#777" stroke-width="0.7"/><path d="M474.4 21.8H484.2" stroke="#0072BD" stroke-width="1"/><text x="485.4" y="24.4" font-size="7.3" fill="#000">No.1</text><path d="M474.4 31.3H484.2" stroke="#D95319" stroke-width="1"/><circle cx="479.3" cy="31.3" r="1.2" fill="#D95319"/><text x="485.4" y="33.9" font-size="7.3" fill="#000">No.2 (reference)</text><path d="M474.4 40.8H484.2" stroke="#EDB120" stroke-width="1"/><text x="485.4" y="43.4" font-size="7.3" fill="#000">No.3</text><path d="M474.4 50.1H484.2" stroke="#7E2F8E" stroke-width="1"/><text x="485.4" y="52.7" font-size="7.3" fill="#000">No.4</text><path d="M474.4 59.6H484.2" stroke="#77AC30" stroke-width="1"/><text x="485.4" y="62.2" font-size="7.3" fill="#000">No.5</text>
<text x="417.4" y="257" font-size="13.8" text-anchor="middle" fill="#111" style="font-family:'Liberation Serif',serif;font-weight:normal;stroke:none">(<tspan font-weight="bold">b</tspan>)</text>
</svg>
</body></html>
